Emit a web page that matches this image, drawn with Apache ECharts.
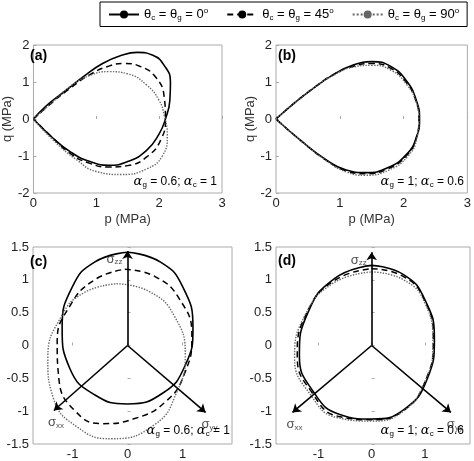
<!DOCTYPE html>
<html><head><meta charset="utf-8">
<script src="https://cdn.jsdelivr.net/npm/echarts@6/dist/echarts.min.js"></script>
<style>html,body{margin:0;background:#fff}#c{width:474px;height:461px}</style>
</head><body><div id="c"></div>
<script>
// legend names
var names = ["t0", "t45", "t90"];
var legendText = {
	t0: "{t|θ}{s|c} = {t|θ}{s|g} = 0{o|o}",
	t45: "{t|θ}{s|c} = {t|θ}{s|g} = 45{o|o}",
	t90: "{t|θ}{s|c} = {t|θ}{s|g} = 90{o|o}"
};

// (a) p-q plane, α_g = 0.6; α_c = 1
var aSolid = [[0,0],[0.2,0.35],[0.5,0.75],[0.8,1.15],[1.1,1.5],[1.4,1.72],[1.65,1.8],[1.9,1.72],[2.08,1.45],[2.18,1.0],[2.17,0.5],[2.1,0],[2.0,-0.4],[1.8,-0.85],[1.5,-1.15],[1.2,-1.25],[0.9,-1.15],[0.6,-0.9],[0.3,-0.5],[0,0]];
var aDash = [[0,0],[0.3,0.45],[0.6,0.85],[0.9,1.2],[1.2,1.43],[1.45,1.5],[1.7,1.42],[1.95,1.12],[2.08,0.6],[2.1,0],[2.03,-0.55],[1.82,-1.0],[1.5,-1.26],[1.2,-1.3],[0.9,-1.2],[0.6,-0.95],[0.3,-0.5],[0,0]];
var aDot = [[0,0],[0.3,0.45],[0.6,0.9],[0.9,1.18],[1.2,1.28],[1.5,1.22],[1.8,0.92],[2.0,0.5],[2.08,0.1],[2.13,-0.45],[2.05,-1.0],[1.8,-1.35],[1.4,-1.5],[1.0,-1.42],[0.7,-1.12],[0.3,-0.55],[0,0]];

// (b) p-q plane, α_g = 1; α_c = 0.6
var bSolid = [[0,0],[0.3,0.45],[0.6,0.85],[0.9,1.2],[1.2,1.45],[1.5,1.55],[1.8,1.42],[2.05,1.02],[2.2,0.5],[2.25,0],[2.2,-0.5],[2.05,-0.95],[1.75,-1.32],[1.4,-1.45],[1.1,-1.38],[0.8,-1.12],[0.4,-0.6],[0,0]];
var bDash = [[0,0],[0.3,0.45],[0.6,0.85],[0.9,1.2],[1.2,1.42],[1.5,1.5],[1.8,1.37],[2.05,0.97],[2.2,0.46],[2.24,0],[2.2,-0.5],[2.05,-0.98],[1.75,-1.35],[1.4,-1.48],[1.1,-1.4],[0.8,-1.13],[0.4,-0.6],[0,0]];
var bDot = [[0,0],[0.3,0.45],[0.6,0.85],[0.9,1.18],[1.2,1.4],[1.5,1.45],[1.8,1.32],[2.05,0.93],[2.2,0.44],[2.24,0],[2.21,-0.5],[2.07,-1.0],[1.77,-1.38],[1.4,-1.52],[1.1,-1.43],[0.8,-1.14],[0.4,-0.6],[0,0]];

// (c) deviatoric plane
var cSolid = [[0,1.42],[0.6,1.27],[1.0,0.9],[1.19,0.27],[1.05,-0.3],[0.65,-0.72],[0,-0.89],[-0.6,-0.75],[-1.05,-0.35],[-1.19,0.27],[-1.0,0.9],[-0.6,1.27],[0,1.42]];
var cDash = [[-0.05,1.16],[0.5,1.05],[0.95,0.7],[1.17,0.15],[1.05,-0.4],[0.7,-0.85],[0.1,-1.12],[-0.45,-1.19],[-0.95,-1.0],[-1.25,-0.5],[-1.28,0.05],[-1.05,0.6],[-0.6,1.0],[-0.05,1.16]];
var cDot = [[-0.2,0.94],[0.4,0.82],[0.85,0.45],[1.05,-0.15],[0.9,-0.7],[0.5,-1.2],[-0.3,-1.42],[-0.9,-1.25],[-1.35,-0.8],[-1.45,-0.2],[-1.2,0.45],[-0.8,0.8],[-0.2,0.94]];

// (d) deviatoric plane
var dSolid = [[0,1.22],[0.6,1.08],[1.0,0.7],[1.18,0.1],[1.05,-0.5],[0.6,-0.98],[0,-1.12],[-0.6,-1.05],[-1.1,-0.7],[-1.36,-0.15],[-1.2,0.5],[-0.7,1.02],[0,1.22]];
var dDash = [[0,1.17],[0.6,1.05],[1.0,0.68],[1.16,0.08],[1.02,-0.52],[0.58,-1.0],[0,-1.13],[-0.62,-1.08],[-1.12,-0.72],[-1.4,-0.16],[-1.23,0.48],[-0.72,0.98],[0,1.17]];
var dDot = [[0,1.12],[0.6,1.0],[1.0,0.65],[1.15,0.05],[1.0,-0.55],[0.56,-1.02],[0,-1.15],[-0.64,-1.1],[-1.15,-0.75],[-1.45,-0.18],[-1.26,0.45],[-0.74,0.94],[0,1.12]];

// principal stress axes (arrow tips)
var cAxes = [[0,1.44],[-1.34,-0.99],[1.42,-1.02]];
var dAxes = [[0,1.42],[-1.49,-1.02],[1.49,-1.02]];
var axisNames = ["zz", "xx", "yy"];

var pTicks = [0, 1, 2, 3];
var qTicks = [-2, -1, 0, 1, 2];
var devXTicks = [-1, 0, 1];
var devYTicks = [-1.5, -1, -0.5, 0, 0.5, 1, 1.5];

var font = "Liberation Sans";
var chart = echarts.init(document.getElementById("c"));

var grids = [
	{ left: 28, right: 252, top: 45, height: 148 },
	{ left: 276, right: 4, top: 45, height: 148 },
	{ left: 33, right: 242, top: 247, height: 208 },
	{ left: 276, right: 4, top: 247, height: 208 }
].map(function (g) {
	return Object.assign({ show: true, borderColor: "#aaa", borderWidth: 1, backgroundColor: "#fff" }, g);
});

function axis(i, min, max, interval, ticks, name, gap) {
	return {
		type: "value", gridIndex: i, min: min, max: max, interval: interval,
		name: name || "", nameLocation: "middle", nameGap: gap || 0,
		nameTextStyle: { fontFamily: font, fontSize: 13, color: "#333" },
		axisLine: { show: false },
		splitLine: { show: false },
		axisTick: { show: true, inside: true, length: 3, lineStyle: { color: "#aaa" }, customValues: ticks },
		axisLabel: { fontFamily: font, fontSize: 13, color: "#222", customValues: ticks, margin: 4 }
	};
}

var xAxes = [
	axis(0, 0, 3, 1, pTicks, "p (MPa)", 20),
	axis(1, 0, 3, 1, pTicks, "p (MPa)", 20),
	axis(2, -1.72, 1.9, null, devXTicks),
	axis(3, -1.8, 1.85, null, devXTicks)
];
var yAxes = [
	axis(0, -2, 2, 1, qTicks, "q (MPa)", 17),
	axis(1, -2, 2, 1, qTicks, "q (MPa)", 17),
	axis(2, -1.5, 1.5, 0.5, devYTicks),
	axis(3, -1.5, 1.5, 0.5, devYTicks)
];

var styles = [
	{ color: "#000", width: 1.6, type: "solid" },
	{ color: "#000", width: 1.5, type: [6, 4] },
	{ color: "#666", width: 1.4, type: "dotted" }
];
var panels = [[aSolid, aDash, aDot], [bSolid, bDash, bDot], [cSolid, cDash, cDot], [dSolid, dDash, dDot]];

var series = [];
panels.forEach(function (set, i) {
	set.forEach(function (data, k) {
		series.push({
			type: "line", name: names[k], xAxisIndex: i, yAxisIndex: i,
			data: data, smooth: 0.5, showSymbol: false, symbol: "none",
			lineStyle: styles[k], itemStyle: { color: styles[k].color }, z: 3
		});
	});
});

var labelOffsets = [[-13, 8], [2, 12], [4, 12]];
[[2, cAxes], [3, dAxes]].forEach(function (p) {
	series.push({
		type: "lines", coordinateSystem: "cartesian2d", xAxisIndex: p[0], yAxisIndex: p[0],
		symbol: ["none", "arrow"], symbolSize: 8, z: 4,
		lineStyle: { color: "#000", width: 1.6, opacity: 1 },
		data: p[1].map(function (t) { return { coords: [[0, 0], t] }; })
	});
	series.push({
		type: "scatter", xAxisIndex: p[0], yAxisIndex: p[0], symbolSize: 0, z: 5,
		data: p[1].map(function (t, j) {
			return {
				value: t,
				label: {
					show: true, offset: labelOffsets[j], position: "inside",
					formatter: "{g|σ}{s|" + axisNames[j] + "}",
					rich: { g: { fontSize: 13, color: "#222", fontFamily: font }, s: { fontSize: 8, color: "#222", fontFamily: font, padding: [6, 0, 0, 0] } }
				}
			};
		})
	});
});

var alphaRich = {
	a: { fontStyle: "italic", fontSize: 13, fontFamily: "DejaVu Serif", color: "#222" },
	s: { fontSize: 8, color: "#222", fontFamily: font, padding: [6, 0, 0, 0] },
	n: { fontSize: 12, color: "#222", fontFamily: font }
};
function note(x, y, g, c) {
	return {
		type: "text", right: 474 - x, top: y - 8, z: 10,
		style: { text: "{a|α}{s|g}{n| = " + g + "; }{a|α}{s|c}{n| = " + c + "}", rich: alphaRich }
	};
}
function tag(x, y, t) {
	return { type: "text", left: x - 10, top: y - 8, z: 10, style: { text: t, font: "bold 14px " + font, fill: "#000" } };
}

chart.setOption({
	animation: false,
	legend: {
		left: 100, top: 2, itemGap: 18, itemWidth: 30, itemHeight: 10,
		borderColor: "#000", borderWidth: 1, padding: [5, 8],
		data: names,
		formatter: function (n) { return legendText[n]; },
		textStyle: {
			fontFamily: font, fontSize: 13, color: "#000",
			rich: {
				t: { fontSize: 13, fontFamily: font },
				s: { fontSize: 8, padding: [6, 0, 0, 0], fontFamily: font },
				o: { fontSize: 8, padding: [0, 0, 7, 0], fontFamily: font }
			}
		}
	},
	grid: grids,
	xAxis: xAxes,
	yAxis: yAxes,
	series: series,
	graphic: [
		tag(40, 57, "(a)"), tag(288, 57, "(b)"), tag(40, 263, "(c)"), tag(288, 262, "(d)"),
		note(217, 183, "0.6", "1"), note(464, 183, "1", "0.6"),
		note(230, 432, "0.6", "1"), note(464, 432, "1", "0.6")
	]
});
</script>
</body></html>
